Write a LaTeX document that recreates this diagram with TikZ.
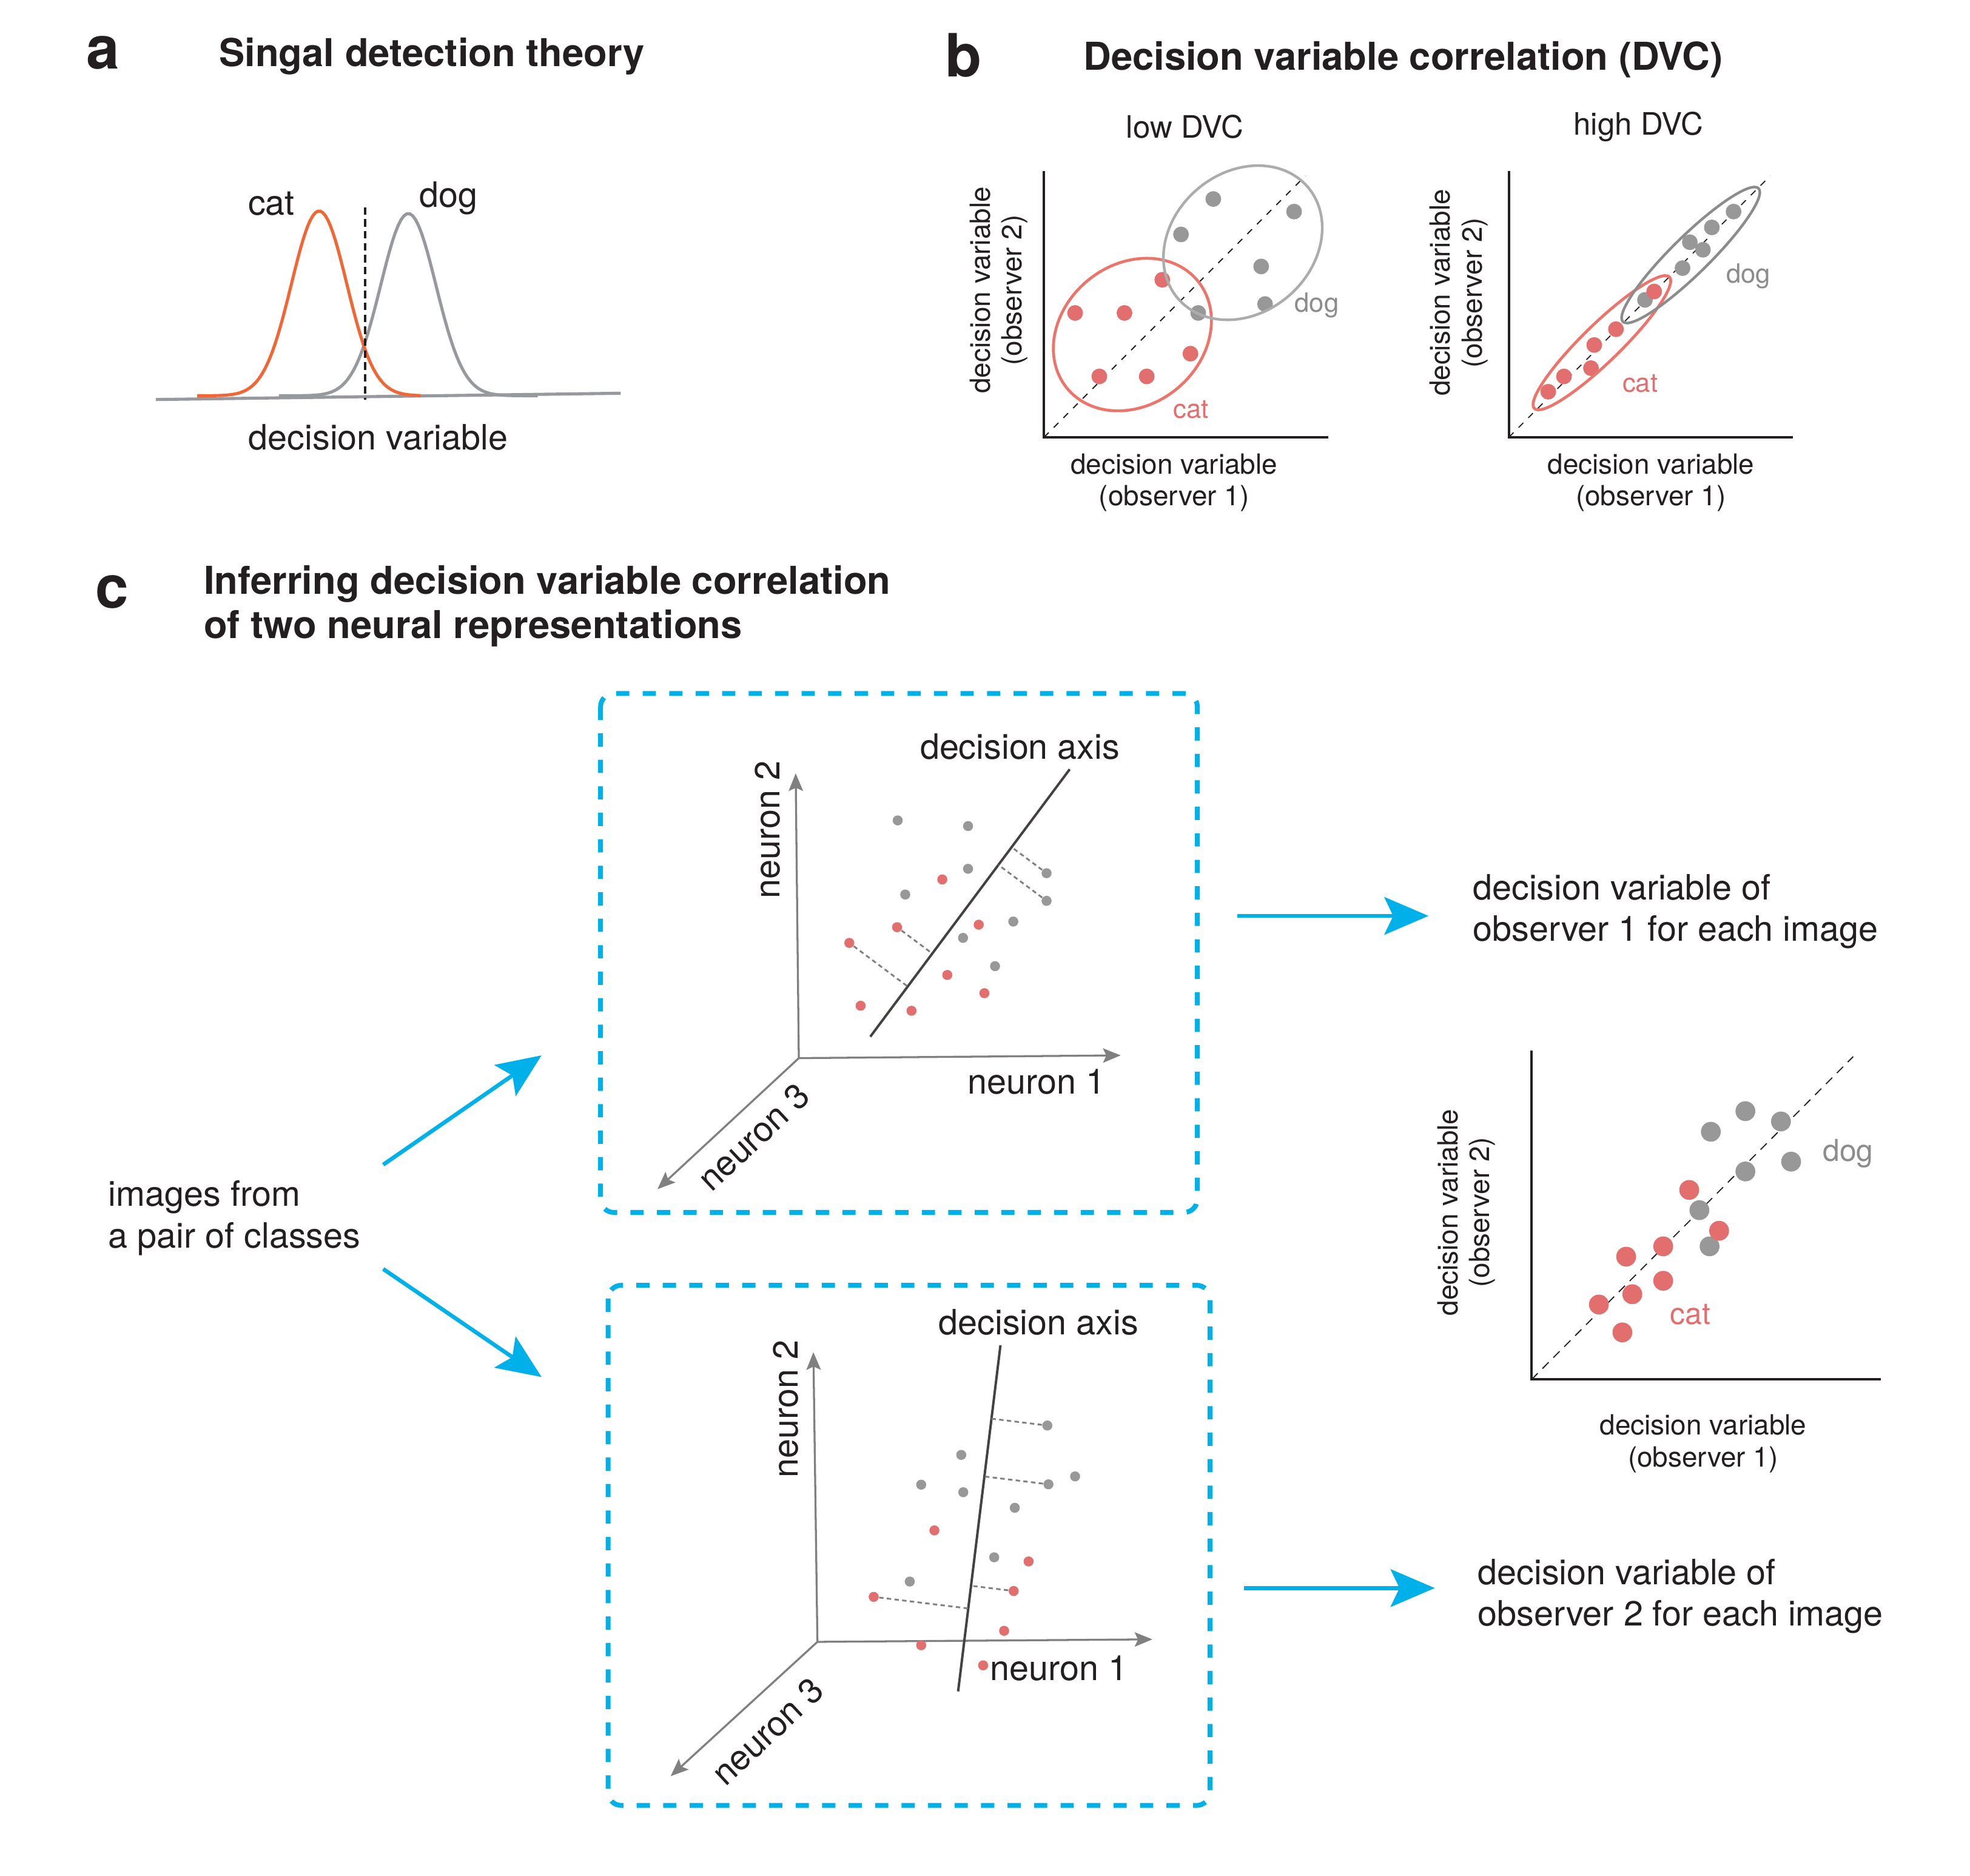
\documentclass[tikz,border=0pt]{standalone}
\usepackage{fontspec}
\setmainfont{TeX Gyre Heros}
\usetikzlibrary{positioning, calc, arrows.meta}

\definecolor{inkblack}{RGB}{35,31,32}
\definecolor{catorange}{RGB}{240,102,52}
\definecolor{catred}{RGB}{226,110,110}
\definecolor{catring}{RGB}{237,116,106}
\definecolor{doggray}{RGB}{152,152,152}
\definecolor{dogring}{RGB}{172,172,172}
\definecolor{dogringdark}{RGB}{140,140,140}
\definecolor{curvegray}{RGB}{152,153,158}
\definecolor{axisgray}{RGB}{128,128,128}
\definecolor{skyblue}{RGB}{0,176,232}

\newcommand{\txtbody}{\fontsize{15.8}{18.8}\selectfont}
\newcommand{\txtsmall}{\fontsize{12.6}{14.4}\selectfont}
\newcommand{\txttitle}{\bfseries\fontsize{17.4}{21}\selectfont}
\newcommand{\txtletter}{\bfseries\fontsize{27}{32}\selectfont}

\begin{document}
\begin{tikzpicture}[x=0.02cm, y=-0.02cm, inner sep=0pt, text=inkblack,
    lbl/.style={font=\txtbody, align=left},
    small/.style={font=\txtsmall, align=center},
    ttl/.style={font=\txttitle, anchor=base west},
    letter/.style={font=\txtletter, anchor=base},
    catpt/.style={circle, fill=catred, minimum size=#1},
    dogpt/.style={circle, fill=doggray, minimum size=#1},
    dvbox/.style={draw=skyblue, line width=2.2pt, dash pattern=on 6pt off 6pt, rounded corners=6pt},
    flow/.style={draw=skyblue, line width=1.8pt, -{Stealth[length=20pt, width=17pt, inset=4pt]}},
    naxis/.style={draw=axisgray, line width=0.9pt, -{Stealth[length=8pt, width=6.5pt, inset=1.5pt]}},
    daxis/.style={draw=inkblack!85, line width=1.1pt},
    proj/.style={draw=axisgray, line width=0.8pt, dash pattern=on 2pt off 1.5pt},
    diag/.style={draw=inkblack, line width=0.5pt, dash pattern=on 3pt off 3.2pt},
    axline/.style={draw=inkblack, line width=1.1pt}]
\useasboundingbox (0,0) rectangle (1568,1493);

\node (la) [letter] at (82,55) {a};
\node (ta) [ttl] at (174,53) {Singal detection theory};
\draw [curvegray, line width=1.4pt] (124,318) -- (494,313);
\draw [curvegray, line width=1.4pt] plot [domain=222:428, samples=90] (\x, {315-145*exp(-((\x-325)^2)/968)});
\draw [catorange, line width=1.4pt] plot [domain=157:335, samples=90] (\x, {315-147*exp(-((\x-254)^2)/968)});
\coordinate (crit1) at (290.5,165);
\coordinate (crit2) at (290.5,318);
\draw [inkblack, line width=1pt, dash pattern=on 3.4pt off 2pt] (crit1) -- (crit2);
\node (cat) [lbl] at (216,162) {cat};
\node (dog) [lbl] at (357,158) {dog};
\node (dva) [lbl] at (301,348) {decision variable};

\node (lb) [letter] at (767,61) {b};
\node (tb) [ttl] at (862,56) {Decision variable correlation (DVC)};
\node (low) [font=\fontsize{14}{16}\selectfont] at (943,101) {low DVC};
\node (high) [font=\fontsize{14}{16}\selectfont] at (1304,101) {high DVC};

\coordinate (lo) at (831,348);
\draw [axline] (831,136) -- (lo) -- (1057,348);
\draw [diag] (lo) -- (1039,140);
\foreach \px/\py [count=\i] in {940.0/186.6, 965.7/158.4, 1030.0/168.4, 1003.8/212.1, 1006.9/242.0, 953.7/249.1}
  \node (lg\i) [dogpt=0.25cm] at (\px,\py) {};
\foreach \px/\py [count=\i] in {855.7/249.1, 895.0/249.1, 925.1/222.7, 875.0/299.6, 912.7/299.6, 947.5/281.5}
  \node (lr\i) [catpt=0.25cm] at (\px,\py) {};
\draw [catring, line width=1.3pt, rotate around={39.5:(901.3,266.3)}] (901.3,266.3) ellipse [x radius=67.3, y radius=55.8];
\draw [dogring, line width=1.2pt, rotate around={40.7:(989.2,193.2)}] (989.2,193.2) ellipse [x radius=68.1, y radius=55.9];
\node (ldog) [font=\fontsize{12}{14}\selectfont, text=dogringdark] at (1048,243) {dog};
\node (lcat) [font=\fontsize{12}{14}\selectfont, text=catred] at (948,326) {cat};
\node (ly) [small, rotate=90] at (795,231) {decision variable\\(observer 2)};
\node (lx) [small] at (934.5,384) {decision variable\\(observer 1)};

\coordinate (ho) at (1201,348);
\draw [axline] (1201,136) -- (ho) -- (1427,348);
\draw [diag] (ho) -- (1409,140);
\foreach \px/\py [count=\i] in {1309.3/238.7, 1339.2/213.4, 1355.4/198.8, 1345.0/192.8, 1362.5/181.0, 1379.8/168.4}
  \node (hg\i) [dogpt=0.25cm] at (\px,\py) {};
\foreach \px/\py [count=\i] in {1232.3/311.8, 1244.8/299.6, 1266.3/293.0, 1268.9/274.6, 1286.2/262.0, 1316.6/232.0}
  \node (hr\i) [catpt=0.25cm] at (\px,\py) {};
\draw [catring, line width=1.3pt, rotate around={44.2:(1275,272.8)}] (1275,272.8) ellipse [x radius=75, y radius=15];
\draw [dogringdark, line width=1.2pt, rotate around={44.5:(1345.7,203)}] (1345.7,203) ellipse [x radius=75.7, y radius=15];
\node (hdog) [font=\fontsize{12}{14}\selectfont, text=dogringdark] at (1391.5,219.8) {dog};
\node (hcat) [font=\fontsize{12}{14}\selectfont, text=catred] at (1305.5,305.2) {cat};
\node (hy) [small, rotate=90] at (1161,233) {decision variable\\(observer 2)};
\node (hx) [small] at (1314,384) {decision variable\\(observer 1)};

\node (lc) [letter] at (89,484) {c};
\node (tc1) [ttl] at (162,473) {Inferring decision variable correlation};
\node (tc2) [ttl] at (162,508) {of two neural representations};

\draw [dvbox] (478,552) rectangle (953,965);
\coordinate (o1) at (635.8,842.2);
\coordinate (n1a) at (892,840);
\coordinate (n2a) at (633.3,615.5);
\coordinate (n3a) at (523.3,946.5);
\draw [naxis] (o1) -- (n1a);
\draw [naxis] (o1) -- (n2a);
\draw [naxis] (o1) -- (n3a);
\node (n1l) [lbl] at (825,861) {neuron 1};
\node (n2l) [lbl, rotate=90] at (610.8,660.5) {neuron 2};
\node (n3l) [lbl, rotate=43] at (600,905) {neuron 3};
\coordinate (da1) at (692.7,825.1);
\coordinate (da2) at (851.4,612.3);
\draw [daxis] (da1) -- (da2);
\node (dal1) [lbl] at (811.8,594.5) {decision axis};
\foreach \px/\py [count=\i] in {714.5/653, 770.5/657.5, 770.5/691.5, 720.5/712, 833/695, 833/717, 806.5/733.5, 766.5/746.5, 792/769}
  \node (tg\i) [dogpt=0.16cm] at (\px,\py) {};
\foreach \px/\py [count=\i] in {750/700, 714/738, 779/736, 676/750.5, 754/776, 783.5/790.5, 685/800.5, 725.5/804.5}
  \node (tr\i) [catpt=0.16cm] at (\px,\py) {};
\draw [proj] (tg5) -- ($(da1)!(tg5)!(da2)$);
\draw [proj] (tg6) -- ($(da1)!(tg6)!(da2)$);
\draw [proj] (tr2) -- ($(da1)!(tr2)!(da2)$);
\draw [proj] (tr4) -- ($(da1)!(tr4)!(da2)$);

\draw [dvbox] (484,1023) rectangle (963,1437);
\coordinate (o2) at (650.6,1306.8);
\coordinate (m1a) at (917.2,1304.8);
\coordinate (m2a) at (647.4,1076.2);
\coordinate (m3a) at (533.8,1413.7);
\draw [naxis] (o2) -- (m1a);
\draw [naxis] (o2) -- (m2a);
\draw [naxis] (o2) -- (m3a);
\node (m1l) [lbl] at (843,1328) {neuron 1};
\node (m2l) [lbl, rotate=90] at (625.3,1121.6) {neuron 2};
\node (m3l) [lbl, rotate=43] at (611,1378) {neuron 3};
\coordinate (da3) at (796.3,1070.7);
\coordinate (da4) at (762.6,1346.2);
\draw [daxis] (da3) -- (da4);
\node (dal2) [lbl] at (826.6,1052.2) {decision axis};
\foreach \px/\py [count=\i] in {833.6/1134.6, 765.1/1158, 733.2/1181.7, 766.7/1187.7, 834.5/1181.4, 855.7/1175.1, 807.7/1200.1, 791.3/1239.5, 724.1/1258.8}
  \node (bg\i) [dogpt=0.16cm] at (\px,\py) {};
\foreach \px/\py [count=\i] in {743.7/1218.1, 818.7/1242.8, 806.8/1266.3, 695.4/1271, 799.2/1298, 733.2/1309.5, 782.5/1325.5}
  \node (br\i) [catpt=0.16cm] at (\px,\py) {};
\draw [proj] (bg1) -- ($(da3)!(bg1)!(da4)$);
\draw [proj] (bg5) -- ($(da3)!(bg5)!(da4)$);
\draw [proj] (br3) -- ($(da3)!(br3)!(da4)$);
\draw [proj] (br4) -- ($(da3)!(br4)!(da4)$);

\node (imgs) [lbl, anchor=west] at (86,969.5) {images from\\a pair of classes};
\node (obs1) [lbl, anchor=west] at (1172,725.5) {decision variable of\\observer 1 for each image};
\node (obs2) [lbl, anchor=west] at (1176,1270.5) {decision variable of\\observer 2 for each image};
\coordinate (fu0) at (305,927);
\coordinate (fu1) at (431,840);
\coordinate (fd0) at (305,1010);
\coordinate (fd1) at (431,1096);
\coordinate (fr0) at (985,729);
\coordinate (fr1) at (1137,729);
\coordinate (fs0) at (990,1264);
\coordinate (fs1) at (1142,1264);
\draw [flow] (fu0) -- (fu1);
\draw [flow] (fd0) -- (fd1);
\draw [flow] (fr0) -- (fr1);
\draw [flow] (fs0) -- (fs1);

\coordinate (so) at (1219,1098);
\draw [axline] (1219,836) -- (so) -- (1497,1098);
\draw [diag, dash pattern=on 4pt off 3pt] (so) -- (1475,841);
\foreach \px/\py [count=\i] in {1389.2/884.4, 1417.5/892.6, 1361.7/900.8, 1425.6/924.6, 1389.2/932.4, 1352.6/963.2, 1360.7/992}
  \node (sg\i) [dogpt=0.316cm] at (\px,\py) {};
\foreach \px/\py [count=\i] in {1344.5/947.1, 1368.3/979.6, 1323.8/992, 1294.3/1000.2, 1323.8/1019.4, 1299.2/1030.1, 1272.6/1038.3, 1291.3/1060.5}
  \node (sr\i) [catpt=0.316cm] at (\px,\py) {};
\node (sdog) [font=\fontsize{13.7}{16}\selectfont, text=dogringdark] at (1471,918) {dog};
\node (scat) [font=\fontsize{13.7}{16}\selectfont, text=catred] at (1345.5,1046) {cat};
\node (sy) [small, rotate=90] at (1167,965) {decision variable\\(observer 2)};
\node (sx) [small] at (1355.5,1149) {decision variable\\(observer 1)};
\end{tikzpicture}
\end{document}
